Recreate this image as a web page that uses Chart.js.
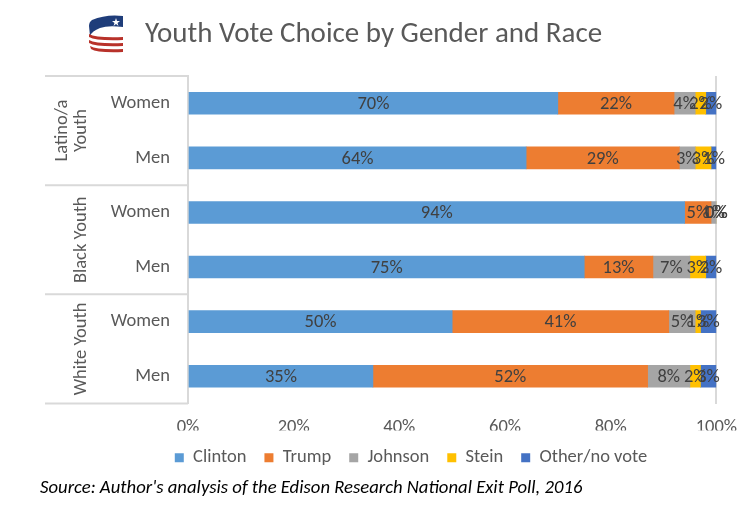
<!DOCTYPE html>
<html lang="en">
<head>
    <meta charset="UTF-8">
    <title>Youth Vote Choice by Gender and Race</title>
    <script src="https://cdn.jsdelivr.net/npm/chart.js"></script>
    <style>
        body { margin: 0; background: #fff; }
        .page { position: relative; width: 750px; height: 516px; overflow: hidden; }
        #chart { position: absolute; left: 0; top: 0; }
        .title {
            position: absolute; left: 145px; top: 14px;
            font-family: Carlito, Calibri, "Open Sans", sans-serif;
            font-size: 29px; color: #595959; white-space: nowrap;
        }
        .logo { position: absolute; left: 88px; top: 14px; }
        .source {
            position: absolute; left: 40px; top: 475px;
            font-family: Carlito, Calibri, "Open Sans", sans-serif;
            font-size: 18.7px; font-style: italic; color: #000; white-space: nowrap;
        }
    </style>
</head>
<body>
<div class="page">
    <canvas id="chart" width="750" height="516"></canvas>
    <!-- logo -->
    <svg class="logo" width="36" height="42" viewBox="0 0 36 42">
        <path d="M4 6 Q18 0 35 2 L35 13 Q20 11 12 14 Q4 17 2 22 L1 12 Q1 8 4 6 Z" fill="#1f3d7a"/>
        <polygon points="28,4 29,7 32,7 29.5,9 30.5,12 28,10 25.5,12 26.5,9 24,7 27,7" fill="#fff"/>
        <path d="M1 20 Q8 24 35 23 L35 26 Q8 27 1 23 Z" fill="#b8322a"/>
        <path d="M1 26 Q8 30 35 29 L35 32 Q8 33 1 29 Z" fill="#b8322a"/>
        <path d="M2 32 Q9 36 35 35 L35 38 Q9 39 3 35 Z" fill="#b8322a"/>
    </svg>
    <div class="title">Youth Vote Choice by Gender and Race</div>
    <div class="source">Source: Author's analysis of the Edison Research National Exit Poll, 2016</div>
</div>

<script>
    // categories (top to bottom)
    const rowLabels = ['Women', 'Men', 'Women', 'Men', 'Women', 'Men'];
    const groups = [['Latino/a', 'Youth'], ['Black Youth'], ['White Youth']];

    // vote shares in percent
    const clinton = [70, 64, 94, 75, 50, 35];
    const trump   = [22, 29, 5, 13, 41, 52];
    const johnson = [4, 3, 1, 7, 5, 8];
    const stein   = [2, 3, 0, 3, 1, 2];
    const other   = [2, 1, 0, 2, 3, 3];

    const xTicks = [0, 20, 40, 60, 80, 100];

    const fontFam = 'Carlito, Calibri, "Open Sans", sans-serif';
    const fs = 18.5;
    const grey = '#595959';
    const lineGrey = '#d9d9d9';

    // draw the percentage text inside each bar segment
    const valueLabels = {
        id: 'valueLabels',
        afterDatasetsDraw(chart) {
            const ctx = chart.ctx;
            ctx.save();
            ctx.font = fs + 'px ' + fontFam;
            ctx.fillStyle = '#404040';
            ctx.textAlign = 'center';
            ctx.textBaseline = 'middle';
            chart.data.datasets.forEach((ds, i) => {
                chart.getDatasetMeta(i).data.forEach((bar, j) => {
                    const p = bar.getCenterPoint();
                    ctx.fillText(ds.data[j] + '%', p.x, p.y + 1);
                });
            });
            ctx.restore();
        }
    };

    // group boxes and rotated group names on the left
    const groupAxis = {
        id: 'groupAxis',
        afterDraw(chart) {
            const ctx = chart.ctx;
            const area = chart.chartArea;
            const y = chart.scales.y;
            const left = 45;
            const step = y.getPixelForValue(1) - y.getPixelForValue(0);
            ctx.save();
            ctx.strokeStyle = lineGrey;
            ctx.lineWidth = 2;
            const bounds = [area.top];
            for (let g = 1; g < groups.length; g++) {
                bounds.push(y.getPixelForValue(g * 2) - step / 2);
            }
            bounds.push(area.bottom);
            bounds.forEach(b => {
                ctx.beginPath();
                ctx.moveTo(left, b);
                ctx.lineTo(area.left, b);
                ctx.stroke();
            });
            ctx.font = fs + 'px ' + fontFam;
            ctx.fillStyle = grey;
            ctx.textAlign = 'center';
            ctx.textBaseline = 'middle';
            groups.forEach((lines, g) => {
                const cy = (bounds[g] + bounds[g + 1]) / 2;
                const cx = 81 - (lines.length - 1) * 19;
                ctx.save();
                ctx.translate(cx, cy);
                ctx.rotate(-Math.PI / 2);
                lines.forEach((t, k) => ctx.fillText(t, 0, k * 19));
                ctx.restore();
            });
            ctx.restore();
        }
    };

    const mk = (label, data, color) => ({
        label: label, data: data, backgroundColor: color, barThickness: 22
    });

    new Chart(document.getElementById('chart'), {
        type: 'bar',
        data: {
            labels: rowLabels,
            datasets: [
                mk('Clinton', clinton, '#5B9BD5'),
                mk('Trump', trump, '#ED7D31'),
                mk('Johnson', johnson, '#A5A5A5'),
                mk('Stein', stein, '#FFC000'),
                mk('Other/no vote', other, '#4472C4')
            ]
        },
        options: {
            indexAxis: 'y',
            responsive: false,
            animation: false,
            layout: { padding: { left: 105, right: 33, top: 76, bottom: 39 } },
            scales: {
                x: {
                    stacked: true,
                    min: 0, max: 100,
                    afterBuildTicks: axis => { axis.ticks = xTicks.map(v => ({ value: v })); },
                    afterFit: axis => { axis.height = 27; },
                    ticks: {
                        padding: 13,
                        color: grey,
                        font: { size: fs, family: fontFam },
                        callback: v => v + '%'
                    },
                    grid: {
                        drawTicks: false,
                        color: c => c.tick && c.tick.value === 100 ? lineGrey : 'rgba(0,0,0,0)',
                        lineWidth: 2
                    },
                    border: { display: false }
                },
                y: {
                    stacked: true,
                    afterFit: axis => { axis.width = 83; },
                    ticks: {
                        padding: 18,
                        color: grey,
                        font: { size: fs, family: fontFam }
                    },
                    grid: { display: false, drawTicks: false },
                    border: { display: true, color: lineGrey, width: 2 }
                }
            },
            plugins: {
                legend: {
                    position: 'bottom',
                    labels: {
                        boxWidth: 9,
                        boxHeight: 9,
                        padding: 18,
                        color: grey,
                        font: { size: fs, family: fontFam }
                    }
                },
                tooltip: { enabled: false }
            }
        },
        plugins: [valueLabels, groupAxis]
    });
</script>
</body>
</html>
